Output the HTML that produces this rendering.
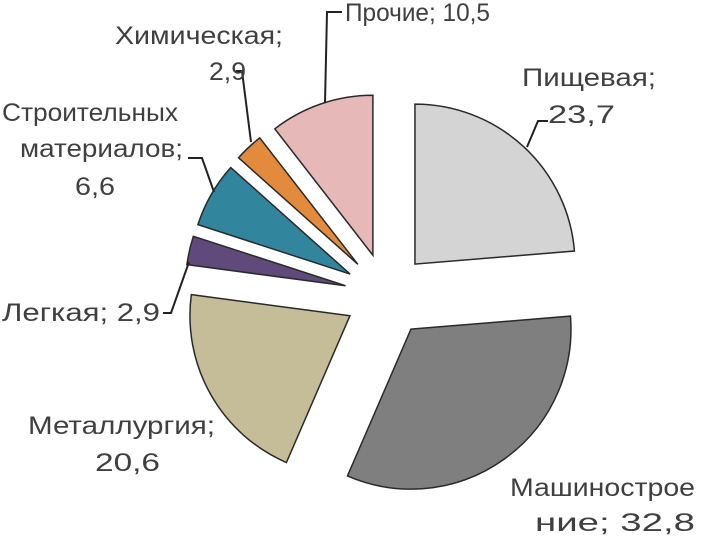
<!DOCTYPE html>
<html><head><meta charset="utf-8"><style>
html,body{margin:0;padding:0;background:#fff;}
svg{display:block;}
text{font-family:"Liberation Sans","DejaVu Sans",sans-serif;font-size:25px;fill:#404040;}
</style></head><body>
<svg id="chart" width="702" height="536" viewBox="0 0 702 536">
<g id="slices"></g>
<g stroke="#222" stroke-width="2" fill="none">
<polyline points="342,12 327,12 325,103"/>
<polyline points="236,71 242,71 251,142"/>
<polyline points="188,158 202,158 214,192"/>
<polyline points="163,313 171,313 189,262"/>
<polyline points="548,121 538,121 527,147"/>
</g>
<g>
<text x="345" y="21" textLength="145" lengthAdjust="spacingAndGlyphs">Прочие; 10,5</text>
<text x="115" y="44" textLength="168" lengthAdjust="spacingAndGlyphs">Химическая;</text>
<text x="209" y="80" textLength="37" lengthAdjust="spacingAndGlyphs">2,9</text>
<text x="2" y="121" textLength="176" lengthAdjust="spacingAndGlyphs">Строительных</text>
<text x="20" y="157" textLength="163" lengthAdjust="spacingAndGlyphs">материалов;</text>
<text x="75" y="195" textLength="40" lengthAdjust="spacingAndGlyphs">6,6</text>
<text x="2" y="321" textLength="158" lengthAdjust="spacingAndGlyphs">Легкая; 2,9</text>
<text x="28" y="434" textLength="187" lengthAdjust="spacingAndGlyphs">Металлургия;</text>
<text x="95" y="471" textLength="65" lengthAdjust="spacingAndGlyphs">20,6</text>
<text x="522" y="86" textLength="134" lengthAdjust="spacingAndGlyphs">Пищевая;</text>
<text x="548" y="123" textLength="67" lengthAdjust="spacingAndGlyphs">23,7</text>
<text x="510" y="496" textLength="185" lengthAdjust="spacingAndGlyphs">Машинострое</text>
<text x="535" y="531" textLength="160" lengthAdjust="spacingAndGlyphs">ние; 32,8</text>
</g>
</svg>
<script>
const categories = ["Пищевая","Машиностроение","Металлургия","Легкая","Строительных материалов","Химическая","Прочие"];
const values = [23.7, 32.8, 20.6, 2.9, 6.6, 2.9, 10.5];
const colors = ["#d4d4d4","#7f7f7f","#c4bd97","#604a7b","#31859c","#e38a3c","#e6b9b8"];
const cx = 386.5, cy = 295, R = 160, explode = 42;
const total = values.reduce((a,b)=>a+b,0);
const g = document.getElementById('slices');
const ns = "http://www.w3.org/2000/svg";
let acc = 0;
function pt(x,y,a,r){return [x+r*Math.sin(a), y-r*Math.cos(a)];}
values.forEach((v,i)=>{
  const a0 = acc/total*2*Math.PI; acc += v;
  const a1 = acc/total*2*Math.PI;
  const mid = (a0+a1)/2;
  const [ox,oy] = pt(cx,cy,mid,explode);
  const [x0,y0] = pt(ox,oy,a0,R), [x1,y1] = pt(ox,oy,a1,R);
  const large = (a1-a0) > Math.PI ? 1 : 0;
  const p = document.createElementNS(ns,'path');
  p.setAttribute('d',`M${ox},${oy} L${x0},${y0} A${R},${R} 0 ${large} 1 ${x1},${y1} Z`);
  p.setAttribute('fill',colors[i]);
  p.setAttribute('stroke','#2a2a2a');
  p.setAttribute('stroke-width','1.5');
  
  
  g.appendChild(p);
});
</script>
</body></html>
